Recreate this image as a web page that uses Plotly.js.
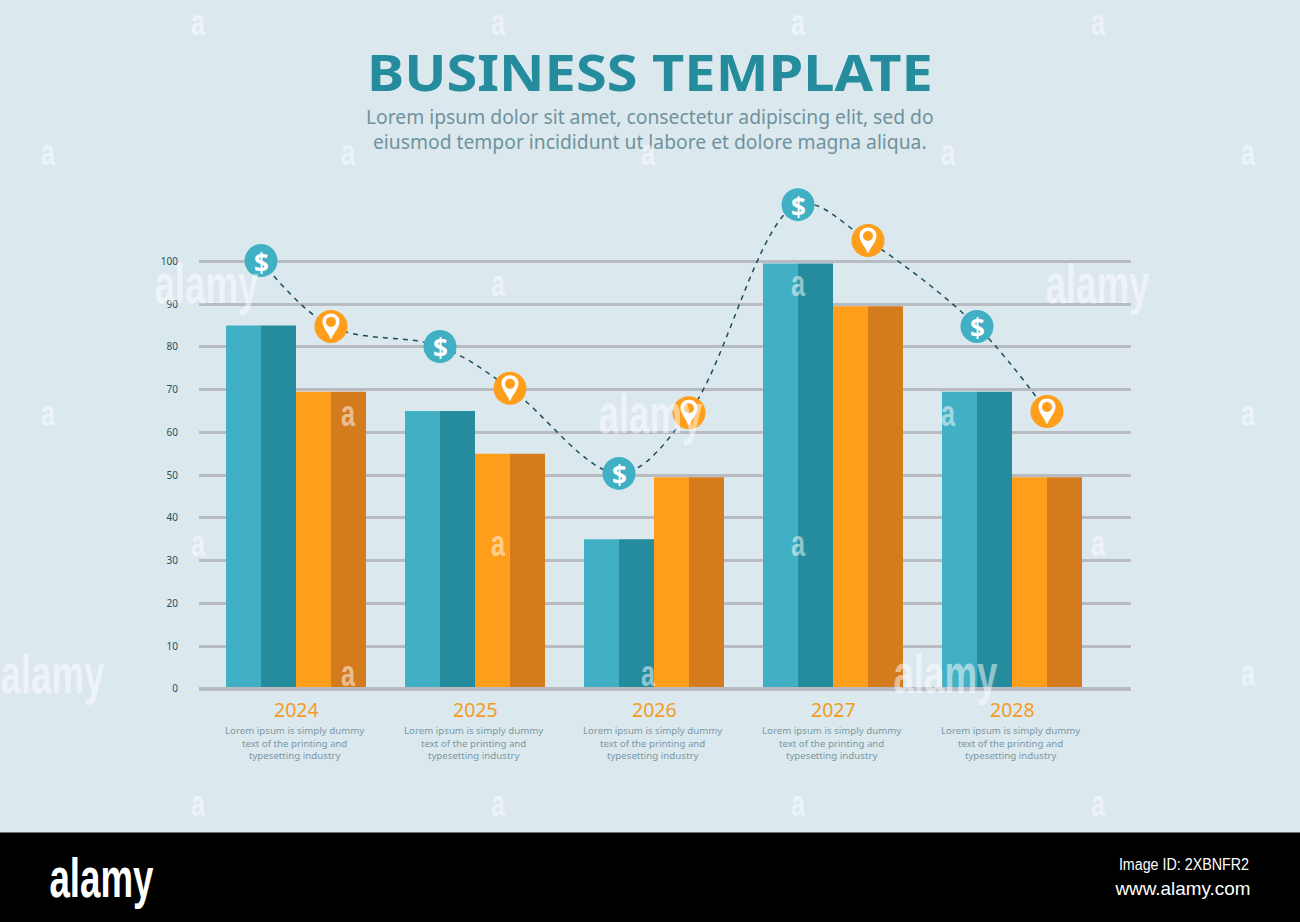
<!DOCTYPE html>
<html>
<head>
<meta charset="utf-8">
<script src="https://cdn.plot.ly/plotly-3.0.1.min.js"></script>
<style>html,body{margin:0;padding:0;background:#DBE8EE;overflow:hidden}</style>
</head>
<body>
<div id="chart" style="width:1300px;height:922px"></div>
<script>
const categories = ['2024', '2025', '2026', '2027', '2028'];
const tealValues = [85, 65, 35, 99.5, 69.5];
const orangeValues = [69.5, 55, 49.5, 89.5, 49.5];
const dollarValues = [100.2, 80.1, 50.4, 113.3, 84.8];
const pinValues = [84.8, 70.3, 64.6, 104.9, 64.9];
const yTicks = [0, 10, 20, 30, 40, 50, 60, 70, 80, 90, 100];
const captionLines = 'Lorem ipsum is simply dummy<br>text of the printing and<br>typesetting industry';
const titleText = '<b>BUSINESS TEMPLATE</b>';
const subtitleText = 'Lorem ipsum dolor sit amet, consectetur adipiscing elit, sed do<br>eiusmod tempor incididunt ut labore et dolore magna aliqua.';

const W = 1300, H = 922, L = 199, R = 1131, T = 170, PXU = 4.27, Y0 = 688.4;
const yMin = -1, yMax = (Y0 - T) / PXU;
const plotBottom = Y0 + (0 - yMin) * PXU;
const plotH = plotBottom - T;
const pxToPaperY = py => (plotBottom - py) / plotH;
const pxToPaperX = px => (px - L) / (R - L);
const xs = categories.map((_, i) => i);
const half = 0.1955;
const dollarX = xs.map(x => x - half);
const pinX = xs.map(x => x + half);

const lineX = [], lineY = [];
xs.forEach(i => { lineX.push(dollarX[i], pinX[i]); lineY.push(dollarValues[i], pinValues[i]); });

const bar = (y, color) => ({type: 'bar', x: xs, y, marker: {color, line: {width: 0}}, hoverinfo: 'skip', showlegend: false});
const traces = [
  bar(tealValues, '#41B0C4'),
  bar(tealValues, '#248C9D'),
  bar(orangeValues, '#FF9E1B'),
  bar(orangeValues, '#D47C1D'),
  {type: 'scatter', mode: 'lines', x: lineX, y: lineY,
   line: {shape: 'spline', smoothing: 1.0, dash: '5px,5px', width: 1.5, color: '#1D4E5C'},
   hoverinfo: 'skip', showlegend: false},
  {type: 'scatter', mode: 'markers', x: dollarX, y: dollarValues,
   marker: {size: 33, color: '#41B0C4', line: {width: 0}}, hoverinfo: 'skip', showlegend: false},
  {type: 'scatter', mode: 'markers', x: pinX, y: pinValues,
   marker: {size: 33, color: '#FF9E1B', line: {width: 0}}, hoverinfo: 'skip', showlegend: false}
];

const shapes = [
  {type: 'rect', xref: 'paper', yref: 'paper', x0: pxToPaperX(0), x1: pxToPaperX(W),
   y0: pxToPaperY(832), y1: pxToPaperY(H), fillcolor: '#000000', line: {width: 0}, layer: 'below'}
];
pinX.forEach((x, i) => {
  shapes.push({type: 'path', xsizemode: 'pixel', ysizemode: 'pixel', xref: 'x', yref: 'y',
    xanchor: x, yanchor: pinValues[i],
    path: 'M0,-13 C-3,-6 -8.5,-1 -8.5,5 C-8.5,10 -4.5,13 0,13 C4.5,13 8.5,10 8.5,5 C8.5,-1 3,-6 0,-13 Z',
    fillcolor: '#FFFFFF', line: {width: 0}});
  shapes.push({type: 'circle', xsizemode: 'pixel', ysizemode: 'pixel', xref: 'x', yref: 'y',
    xanchor: x, yanchor: pinValues[i], x0: -5, x1: 5, y0: -0.5, y1: 9.5,
    fillcolor: '#FF9E1B', line: {width: 0}});
});

const annotations = [];
const addText = (px, py, text, size, color, family) => annotations.push({
  xref: 'paper', yref: 'paper', x: pxToPaperX(px), y: pxToPaperY(py), text, showarrow: false,
  xanchor: 'center', yanchor: 'middle', align: 'center',
  font: {size, color, family}
});
const UI = '"Noto Sans", "Open Sans", sans-serif';
addText(650, 71, titleText, 51, '#248C9C', UI);
addText(650, 129, subtitleText, 19.3, '#6F939C', UI);
xs.forEach(i => {
  annotations.push({xref: 'x', x: i, yref: 'paper', y: pxToPaperY(709), text: categories[i], showarrow: false,
    yanchor: 'middle', font: {size: 19.5, color: '#F39C1F', family: UI}});
  annotations.push({xref: 'x', x: i, xshift: -1.5, yref: 'paper', y: pxToPaperY(743), text: captionLines, showarrow: false,
    yanchor: 'middle', align: 'center', font: {size: 9.7, color: '#7C98A3', family: UI}});
  annotations.push({xref: 'x', yref: 'y', x: dollarX[i], y: dollarValues[i], yshift: -2, text: '<b>$</b>', showarrow: false,
    xanchor: 'center', yanchor: 'middle', font: {size: 26, color: '#FFFFFF', family: '"Open Sans", sans-serif'}});
});

const WM = '"Liberation Sans", sans-serif';
const wmBig = [[206, 283], [1097, 283], [650, 413], [52, 673], [945, 673]];
const wmSmall = [
  [198, 23], [498, 23], [798, 23], [1098, 23],
  [48, 153], [348, 153], [648, 153], [948, 153], [1248, 153],
  [498, 283], [798, 283],
  [48, 413], [348, 413], [948, 413], [1248, 413],
  [198, 543], [498, 543], [798, 543], [1098, 543],
  [348, 673], [648, 673], [1248, 673],
  [198, 803], [498, 803], [798, 803], [1098, 803]
];
wmBig.forEach(p => addText(p[0], p[1], '<b>alamy</b>', 56, 'rgba(255,255,255,0.5)', WM));
wmSmall.forEach(p => addText(p[0], p[1], '<b>a</b>', 36, 'rgba(255,255,255,0.5)', WM));
addText(101, 877, '<b>alamy</b>', 56, '#FFFFFF', WM);
addText(1184, 864, 'Image ID: 2XBNFR2', 16, '#FFFFFF', WM);
addText(1182, 888, 'www.alamy.com', 19, '#FFFFFF', WM);

const layout = {
  width: W, height: H, autosize: false,
  paper_bgcolor: '#DBE8EE', plot_bgcolor: 'rgba(0,0,0,0)',
  margin: {l: L, r: W - R, t: T, b: H - plotBottom, pad: 0},
  barmode: 'group', bargap: 0.218, bargroupgap: 0,
  hovermode: false, showlegend: false,
  xaxis: {type: 'linear', range: [(L - 296) / 179, (R - 296) / 179], showgrid: false, zeroline: false,
          showline: false, ticks: '', showticklabels: false, tickvals: xs},
  yaxis: {type: 'linear', range: [yMin, yMax], tickmode: 'array', tickvals: yTicks, ticktext: yTicks.map(String),
          showgrid: true, gridcolor: '#B9BBC3', gridwidth: 3,
          zeroline: true, zerolinecolor: '#B9BBC3', zerolinewidth: 4, zerolinelayer: 'above traces',
          showline: false, ticks: 'outside', ticklen: 18, tickcolor: 'rgba(0,0,0,0)', tickwidth: 1,
          tickfont: {size: 10, color: '#24505C', family: UI}},
  shapes, annotations
};
const fittedWidths = {'alamy': 104, 'a': 14, 'BUSINESS TEMPLATE': 566, 'Image ID: 2XBNFR2': 130, 'www.alamy.com': 135};
Plotly.newPlot('chart', traces, layout, {displayModeBar: false, responsive: false}).then(gd => {
  gd.querySelectorAll('.annotation-text').forEach(t => {
    const w = fittedWidths[t.textContent];
    if (w) { t.setAttribute('textLength', w); t.setAttribute('lengthAdjust', 'spacingAndGlyphs'); }
  });
});
</script>
</body>
</html>
